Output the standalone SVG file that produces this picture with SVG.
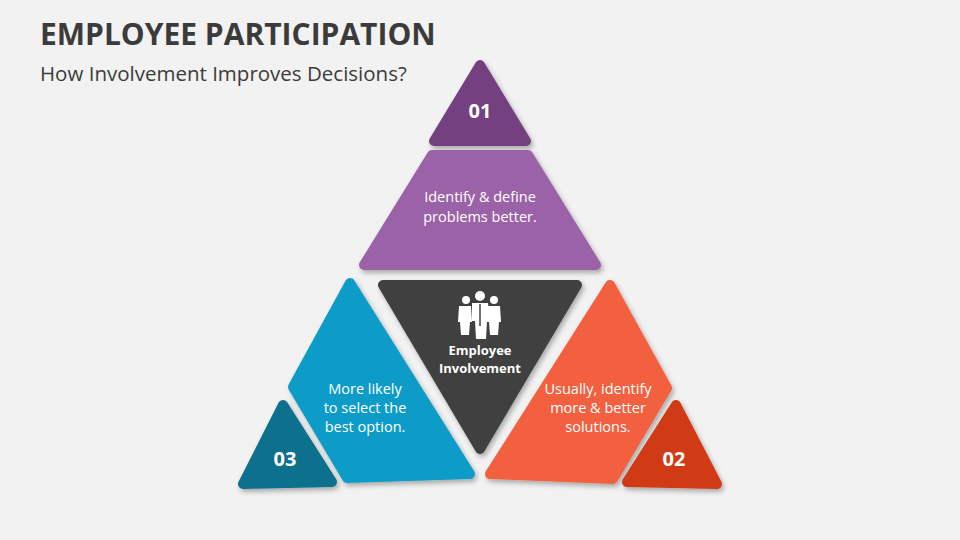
<svg xmlns="http://www.w3.org/2000/svg" width="960" height="540" viewBox="0 0 960 540">
<defs>
<filter id="sh" x="-20%" y="-20%" width="140%" height="140%"><feDropShadow dx="2" dy="3" stdDeviation="2.5" flood-color="#000" flood-opacity="0.3"/></filter>
</defs>
<style>
.t{font-family:"Open Sans","Liberation Sans",sans-serif;fill:#fff;text-anchor:middle}
.s{stroke-linejoin:round;stroke-width:10;filter:url(#sh)}
</style>
<rect width="960" height="540" fill="#f2f2f2"/>
<text x="40" y="45" font-family="Open Sans,Liberation Sans,sans-serif" font-weight="bold" font-size="30" fill="#3b3b3b">EMPLOYEE PARTICIPATION</text>
<text x="40" y="81" font-family="Open Sans,Liberation Sans,sans-serif" font-size="20.5" fill="#3b3b3b">How Involvement Improves Decisions?</text>
<g id="n01"><path class="s" d="M480,65 L526,141 L434,141 Z" fill="#74407f" stroke="#74407f"/><text class="t" x="480" y="118" font-size="20" font-weight="bold">01</text></g>
<g id="top"><path class="s" d="M432,155 L528,155 L596,265 L364,265 Z" fill="#9b62a8" stroke="#9b62a8"/><text class="t" x="480" y="202" font-size="14.5">Identify &amp; define</text><text class="t" x="480" y="222" font-size="14.5">problems better.</text></g>
<g id="center"><path class="s" d="M383,285 L577,285 L480,449 Z" fill="#404040" stroke="#404040"/>
<g fill="#fff"><circle cx="480" cy="296" r="5"/><path d="M472,303 h16 l2,18 h-3 l-1,18 h-10 l-1,-18 h-3 Z"/><circle cx="466" cy="300" r="4"/><path d="M459,306 h12 l1,16 h-2 l-1,13 h-8 l-1,-13 h-2 Z"/><circle cx="494" cy="300" r="4"/><path d="M488,306 h12 l1,16 h-2 l-1,13 h-8 l-1,-13 h-2 Z"/></g>
<path d="M480,304 v22" stroke="#404040" stroke-width="1.5"/>
<text class="t" x="480" y="355" font-size="13" font-weight="bold">Employee</text><text class="t" x="480" y="373" font-size="13" font-weight="bold">Involvement</text></g>
<g id="left"><path class="s" d="M350,283 L470,474 L347,478 L293,387 Z" fill="#0a9bc8" stroke="#0a9bc8"/><text class="t" x="365" y="394" font-size="14.5">More likely</text><text class="t" x="365" y="413" font-size="14.5">to select the</text><text class="t" x="365" y="432" font-size="14.5">best option.</text></g>
<g id="n03"><path class="s" d="M283,405 L332,482 L243,484 Z" fill="#0c6f8c" stroke="#0c6f8c"/><text class="t" x="285" y="466" font-size="20" font-weight="bold">03</text></g>
<g id="right"><path class="s" d="M610,285 L667,388 L613,479 L490,474 Z" fill="#f2613f" stroke="#f2613f"/><text class="t" x="598" y="394" font-size="14.5">Usually, identify</text><text class="t" x="598" y="413" font-size="14.5">more &amp; better</text><text class="t" x="598" y="432" font-size="14.5">solutions.</text></g>
<g id="n02"><path class="s" d="M676,405 L717,484 L627,482 Z" fill="#d03a18" stroke="#d03a18"/><text class="t" x="674" y="466" font-size="20" font-weight="bold">02</text></g>
<g id="connectors"/>
</svg>
